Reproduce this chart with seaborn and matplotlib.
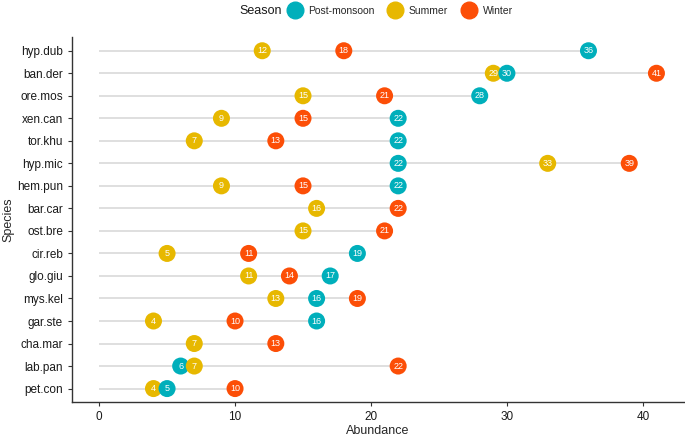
import pandas as pd
import numpy as np
import matplotlib.pyplot as plt
import seaborn as sns

species = ['hyp.dub', 'ban.der', 'ore.mos', 'xen.can', 'tor.khu', 'hyp.mic', 'hem.pun', 'bar.car',
           'ost.bre', 'cir.reb', 'glo.giu', 'mys.kel', 'gar.ste', 'cha.mar', 'lab.pan', 'pet.con']
post_monsoon = [36, 30, 28, 22, 22, 22, 22, None, None, 19, 17, 16, 16, None, 6, 5]
summer = [12, 29, 15, 9, 7, 33, 9, 16, 15, 5, 11, 13, 4, 7, 7, 4]
winter = [18, 41, 21, 15, 13, 39, 15, 22, 21, 11, 14, 19, 10, 13, 22, 10]
seasons = ['Post-monsoon', 'Summer', 'Winter']
palette = {'Post-monsoon': '#00AFBB', 'Summer': '#E7B800', 'Winter': '#FC4E07'}

rows = []
for i, sp in enumerate(species):
    for season, vals in zip(seasons, [post_monsoon, summer, winter]):
        if vals[i] is not None:
            rows.append({'Species': sp, 'Season': season, 'Abundance': vals[i]})
df = pd.DataFrame(rows)
df['ypos'] = df['Species'].map({s: i for i, s in enumerate(species)})
df = df.sort_values(['ypos', 'Abundance'])

sns.set_style('white')
plt.rcParams['font.family'] = ['Liberation Sans', 'DejaVu Sans']

fig, ax = plt.subplots(figsize=(6.85, 4.38), dpi=100)
fig.subplots_adjust(left=0.105, right=0.998, top=0.915, bottom=0.082)

# segments from 0 to the max value
maxes = df.groupby('ypos')['Abundance'].max()
ax.hlines(maxes.index, 0, maxes.values, color='#d9d9d9', lw=1.2, zorder=1)

sns.scatterplot(data=df, x='Abundance', y='ypos', hue='Season', palette=palette,
                hue_order=seasons, s=150, edgecolor='none', legend=False, ax=ax, zorder=2)
for _, r in df.iterrows():
    ax.text(r['Abundance'], r['ypos'], str(r['Abundance']), color='white',
            ha='center', va='center', fontsize=6.5, zorder=3)

ax.set_xlim(-2.0, 43.0)
ax.set_ylim(len(species) - 0.4, -0.6)
ax.set_yticks(range(len(species)))
ax.set_yticklabels(species)
ax.set_xticks([0, 10, 20, 30, 40])
ax.set_xlabel('Abundance', fontsize=9, labelpad=1)
ax.set_ylabel('Species', fontsize=9, labelpad=2)
ax.tick_params(axis='both', labelsize=8.5, colors='#333333', length=3, width=0.8, left=True, bottom=True)
ax.tick_params(axis='both', labelcolor='#1a1a1a')
for side in ['top', 'right']:
    ax.spines[side].set_visible(False)
for side in ['left', 'bottom']:
    ax.spines[side].set_color('#333333')
    ax.spines[side].set_linewidth(1.0)

# legend on top
handles = [plt.Line2D([], [], marker='o', ls='', markersize=12, color=palette[s]) for s in seasons]
fig.text(0.35, 0.975, 'Season', fontsize=9, ha='left', va='center', color='#1a1a1a')
fig.legend(handles, seasons, loc='center left', bbox_to_anchor=(0.415, 0.975), ncol=3, frameon=False,
           fontsize=7.5, handletextpad=0.3, columnspacing=1.0, borderaxespad=0, borderpad=0)

fig.savefig('out.png', dpi=100)
